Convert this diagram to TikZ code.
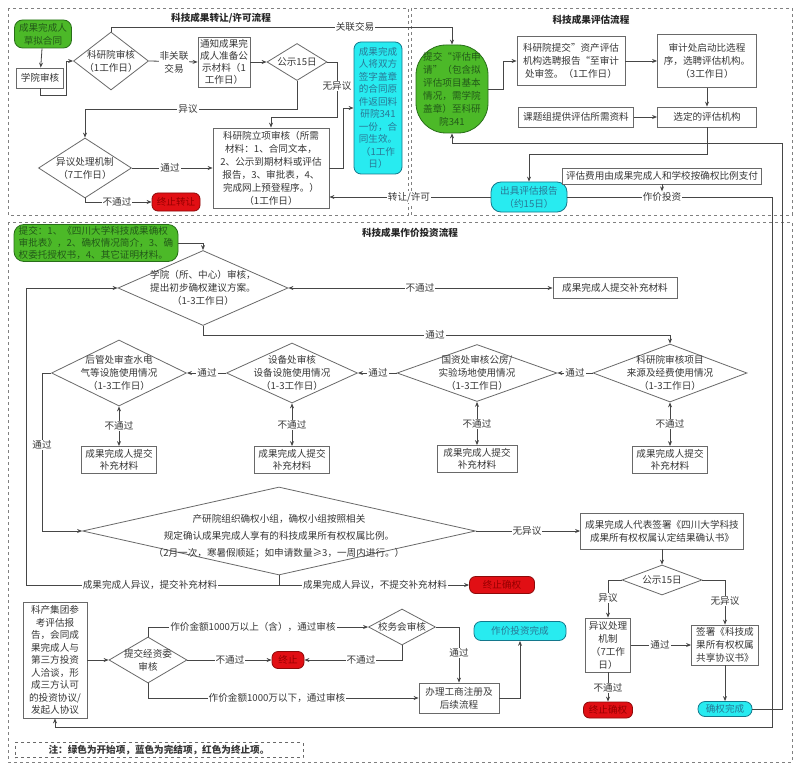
\documentclass[tikz,border=0pt]{standalone}
\usepackage{fontspec}
\setmainfont{Noto Sans CJK SC}
\usetikzlibrary{shapes.geometric,arrows.meta,calc}
\definecolor{ln}{RGB}{70,70,70}
\definecolor{bd}{RGB}{105,105,105}
\definecolor{tx}{RGB}{55,55,55}
\definecolor{gfill}{RGB}{76,185,40}
\definecolor{gdraw}{RGB}{40,110,25}
\definecolor{gtext}{RGB}{35,90,25}
\definecolor{cfill}{RGB}{40,235,240}
\definecolor{cdraw}{RGB}{20,120,140}
\definecolor{ctext}{RGB}{40,120,150}
\definecolor{rfill}{RGB}{225,15,20}
\definecolor{rdraw}{RGB}{140,10,10}
\definecolor{rtext}{RGB}{150,0,0}
\begin{document}
\begin{tikzpicture}[x=1pt,y=-1pt,
  every node/.style={font=\fontsize{9.6}{13}\selectfont, text=tx},
  base/.style={align=center, inner sep=0pt},
  box/.style 2 args={base, draw=bd, fill=white, line width=.8pt, minimum width=#1, minimum height=#2},
  gbox/.style 2 args={box={#1}{#2}, fill=gfill, draw=gdraw, text=gtext, rounded corners=8pt},
  cbox/.style 2 args={box={#1}{#2}, fill=cfill, draw=cdraw, text=ctext, rounded corners=7pt},
  rbox/.style 2 args={box={#1}{#2}, fill=rfill, draw=rdraw, text=rtext, rounded corners=6pt},
  dia/.style 2 args={diamond, draw=bd, fill=white, line width=.8pt, inner sep=0pt, minimum width=#1, minimum height=#2},
  dtext/.style={base},
  lab/.style={base, fill=white, inner sep=1pt},
  arr/.style={draw=ln, line width=.8pt, -{Stealth[length=5pt,width=4pt]}},
  arrtwo/.style={draw=ln, line width=.8pt, {Stealth[length=5pt,width=4pt]}-{Stealth[length=5pt,width=4pt]}},
  sect/.style={draw=gray, dashed, line width=.7pt},
  ttl/.style={font=\fontsize{9.6}{12}\selectfont\bfseries, text=black!85}
]
\fill[white] (0,0) rectangle (800,770);
\useasboundingbox (0,0) rectangle (800,770);

% ---------- sections ----------
\draw[sect] (8,8) rectangle (408,215);
\draw[sect] (411,8) rectangle (792,215);
\draw[sect] (8,222) rectangle (792,762);
\node[ttl] (t1) at (221,18) {科技成果转让/许可流程};
\node[ttl] (t2) at (591,20) {科技成果评估流程};
\node[ttl] (t3) at (410,233) {科技成果作价投资流程};

% ---------- section 1 nodes ----------
\node[gbox={57}{28}] (g1) at (43,34) {成果完成人\\草拟合同};
\node[box={47}{20}] (b1) at (40,78) {学院审核};
\node[dia={75}{58}] (d1) at (111,61) {};
\node[dtext] (d1t) at (d1) {科研院审核\\（1工作日）};
\node[box={52}{50}, font=\fontsize{9.6}{12}\selectfont] (b2) at (224,62) {通知成果完\\成人准备公\\示材料（1\\工作日）};
\node[dia={60}{37}] (d2) at (297,62) {};
\node[dtext] (d2t) at (d2) {公示15日};
\node[cbox={48}{132}, font=\fontsize{9.6}{12.5}\selectfont] (c1) at (378,108) {成果完成\\人将双方\\签字盖章\\的合同原\\件返回料\\研院341\\一份，合\\同生效。\\（1工作\\日）};
\node[box={116}{80}] (b3) at (271,168) {科研院立项审核（所需\\材料：1、合同文本，\\2、公示到期材料或评估\\报告，3、审批表，4、\\完成网上预登程序。）\\（1工作日）};
\node[dia={93}{60}] (d3) at (85,168) {};
\node[dtext] (d3t) at (d3) {异议处理机制\\（7工作日）};
\node[rbox={48}{18}] (r1) at (176,202) {终止转让};

% ---------- section 2 nodes ----------
\node[gbox={72}{88}, rounded corners=30pt] (g2) at (452,89) {提交“评估申\\请”（包含拟\\评估项目基本\\情况，需学院\\盖章）至科研\\院341};
\node[box={108}{49}] (b4) at (571,61) {科研院提交”资产评估\\机构选聘报告“至审计\\处审签。（1工作日）};
\node[box={99}{53}] (b5) at (707,61) {审计处启动比选程\\序，选聘评估机构。\\（3工作日）};
\node[box={99}{20}] (b6) at (707,117) {选定的评估机构};
\node[box={115}{20}] (b7) at (576,117) {课题组提供评估所需资料};
\node[cbox={76}{30}, rounded corners=10pt] (c2) at (529,197) {出具评估报告\\（约15日）};
\node[box={199}{16}] (b8) at (662,176) {评估费用由成果完成人和学校按确权比例支付};

% ---------- section 3 nodes ----------
\node[gbox={164}{37}, align=left, rounded corners=10pt, font=\fontsize{9.6}{12}\selectfont] (g3) at (96,243) {提交：1、《四川大学科技成果确权\\审批表》，2、确权情况简介，3、确\\权委托授权书，4、其它证明材料。};
\node[dia={170}{75}] (d4) at (203,288) {};
\node[dtext] (d4t) at (d4) {学院（所、中心）审核，\\提出初步确权建议方案。\\（1-3工作日）};
\node[box={124}{21}] (b9) at (615,288) {成果完成人提交补充材料};
\node[dia={154}{58}] (d5) at (670,373) {};
\node[dtext] (d5t) at (d5) {科研院审核项目\\来源及经费使用情况\\（1-3工作日）};
\node[dia={160}{57}] (d6) at (477,373) {};
\node[dtext] (d6t) at (d6) {国资处审核公房/\\实验场地使用情况\\（1-3工作日）};
\node[dia={131}{60}] (d7) at (292,373) {};
\node[dtext] (d7t) at (d7) {设备处审核\\设备设施使用情况\\（1-3工作日）};
\node[dia={135}{66}] (d8) at (119,373) {};
\node[dtext] (d8t) at (d8) {后管处审查水电\\气等设施使用情况\\（1-3工作日）};
\node[box={75}{27}, font=\fontsize{9.6}{12}\selectfont] (s1) at (119,460) {成果完成人提交\\补充材料};
\node[box={75}{27}, font=\fontsize{9.6}{12}\selectfont] (s2) at (292,460) {成果完成人提交\\补充材料};
\node[box={80}{27}, font=\fontsize{9.6}{12}\selectfont] (s3) at (477,459) {成果完成人提交\\补充材料};
\node[box={75}{27}, font=\fontsize{9.6}{12}\selectfont] (s4) at (670,460) {成果完成人提交\\补充材料};
\node[dia={393}{88}] (d9) at (279,531) {};
\node[dtext, font=\fontsize{9.6}{17}\selectfont] (d9t) at (279,536) {产研院组织确权小组，确权小组按照相关\\规定确认成果完成人享有的科技成果所有权权属比例。\\（2月一次，寒暑假顺延；如申请数量≥3，一周内进行。）};
\node[rbox={65}{17}] (r2) at (502,585) {终止确权};
\node[box={163}{36}] (b10) at (662,531) {成果完成人代表签署《四川大学科技\\成果所有权权属认定结果确认书》};
\node[dia={80}{30}] (d10) at (662,580) {};
\node[dtext] (d10t) at (d10) {公示15日};
\node[box={45}{54}] (b11) at (608,645) {异议处理\\机制\\（7工作\\日）};
\node[box={67}{40}] (b12) at (725,645) {签署《科技成\\果所有权权属\\共享协议书》};
\node[rbox={49}{16}] (r3) at (608,710) {终止确权};
\node[cbox={54}{15}] (c4) at (725,709) {确权完成};
\node[box={64}{116}, font=\fontsize{9.6}{12.5}\selectfont] (b13) at (55,660) {科产集团参\\考评估报\\告，会同成\\果完成人与\\第三方投资\\人洽谈，形\\成三方认可\\的投资协议/\\发起人协议};
\node[dia={78}{46}] (d11) at (148,660) {};
\node[dtext] (d11t) at (d11) {提交经资委\\审核};
\node[rbox={32}{17}] (r4) at (288,660) {终止};
\node[dia={67}{36}] (d12) at (402,627) {};
\node[dtext] (d12t) at (d12) {校务会审核};
\node[box={80}{30}] (b14) at (459,698) {办理工商注册及\\后续流程};
\node[cbox={92}{19}] (c3) at (520,631) {作价投资完成};
\node[box={288}{15}, dashed, font=\fontsize{9.6}{12}\selectfont\bfseries] (nt) at (159,750) {注：绿色为开始项，蓝色为完结项，红色为终止项。};

% ---------- section 1 connectors ----------
\draw[arr] (g1) -- (b1);
\draw[arr] (b1.south) |- (66,95) |- (d1.west);
\draw[arr] (d1.east) -- (b2.west);
\node[lab] (l1) at (174,62) {非关联\\交易};
\draw[arr] (b2.east) -- (d2.west);
\draw[arr] (d1.north) |- (452,27) -- (g2.north);
\node[lab] (l2) at (355,27) {关联交易};
\draw[arr] (d2.east) -| (337,117) -| (b3.north);
\node[lab] (l3) at (337,86) {无异议};
\draw[arr] (d2.south) -- (297,109) -| (d3.north);
\node[lab] (l4) at (188,109) {异议};
\draw[arr] (b3.east) -- (343,168) |- (c1.west);
\draw[arr] (d3.east) -- (b3.west);
\node[lab] (l5) at (170,168) {通过};
\draw[arr] (d3.south) |- (r1.west);
\node[lab] (l6) at (117,202) {不通过};
\draw[arr] (c2.west) -- (c2.west -| b3.east);
\node[lab] (l7) at (409,197) {转让/许可};

% ---------- section 2 connectors ----------
\draw[arr] (g2.east) -- (503,89) |- (b4.west);
\draw[arr] (b4.east) -- (b5.west);
\draw[arr] (b5.south) -- (b6.north);
\draw[arr] (b7.east) -- (b6.west);
\draw[arr] (b6.south) -- (707,154) -| (c2.north);
\draw[arr] (c2.east) -- (772,197) -- (772,727) -| (b13.south);
\node[lab] (l8) at (662,197) {作价投资};
\draw[arr] (b8.south) -- (l8.north);
\draw[arr] (c4.east) -- (782,709) |- (452,143) -- (g2.south);

% ---------- section 3 connectors ----------
\draw[arr] (g3.east) -| (d4.north);
\draw[arrtwo] (d4.east) -- (b9.west);
\node[lab] (l9) at (420,288) {不通过};
\draw[arr] (d9.south) |- (26,585) |- (d4.west);
\node[lab] (l10) at (150,585) {成果完成人异议，提交补充材料};
\draw[arr] (d9.south) |- (r2.west);
\node[lab] (l11) at (375,585) {成果完成人异议，不提交补充材料};
\draw[arr] (d4.south) -- (203,335) -| (d5.north);
\node[lab] (l12) at (435,335) {通过};
\draw[arr] (d5.west) -- (d6.east);
\node[lab] (l13) at (575,373) {通过};
\draw[arr] (d6.west) -- (d7.east);
\node[lab] (l14) at (378,373) {通过};
\draw[arr] (d7.west) -- (d8.east);
\node[lab] (l15) at (207,373) {通过};
\draw[arr] (d8.west) -- (42,373) |- (d9.west);
\node[lab] (l16) at (42,445) {通过};
\draw[arrtwo] (d8.south) -- (s1.north);
\node[lab] (l17) at (119,426) {不通过};
\draw[arrtwo] (d7.south) -- (s2.north);
\node[lab] (l18) at (292,425) {不通过};
\draw[arrtwo] (d6.south) -- (s3.north);
\node[lab] (l19) at (477,424) {不通过};
\draw[arrtwo] (d5.south) -- (s4.north);
\node[lab] (l20) at (670,424) {不通过};
\draw[arr] (d9.east) -- (b10.west);
\node[lab] (l21) at (527,531) {无异议};
\draw[arr] (b10.south) -- (d10.north);
\draw[arr] (d10.west) -| (b11.north);
\node[lab] (l22) at (608,598) {异议};
\draw[arr] (d10.east) -| (b12.north);
\node[lab] (l23) at (725,601) {无异议};
\draw[arr] (b11.east) -- (b12.west);
\node[lab] (l24) at (660,645) {通过};
\draw[arr] (b11.south) -- (r3.north);
\node[lab] (l25) at (608,688) {不通过};
\draw[arr] (b12.south) -- (c4.north);
\draw[arr] (b13.east) -- (d11.west);
\draw[arr] (d11.north) |- (d12.west);
\node[lab] (l26) at (253,627) {作价金额1000万以上（含），通过审核};
\draw[arr] (d11.east) -- (r4.west);
\node[lab] (l27) at (230,660) {不通过};
\draw[arr] (d12.south) |- (r4.east);
\node[lab] (l28) at (361,660) {不通过};
\draw[arr] (d12.east) -| (b14.north);
\node[lab] (l29) at (459,653) {通过};
\draw[arr] (d11.south) |- (b14.west);
\node[lab] (l30) at (277,698) {作价金额1000万以下，通过审核};
\draw[arr] (b14.east) -| (c3.south);
\end{tikzpicture}
\end{document}
